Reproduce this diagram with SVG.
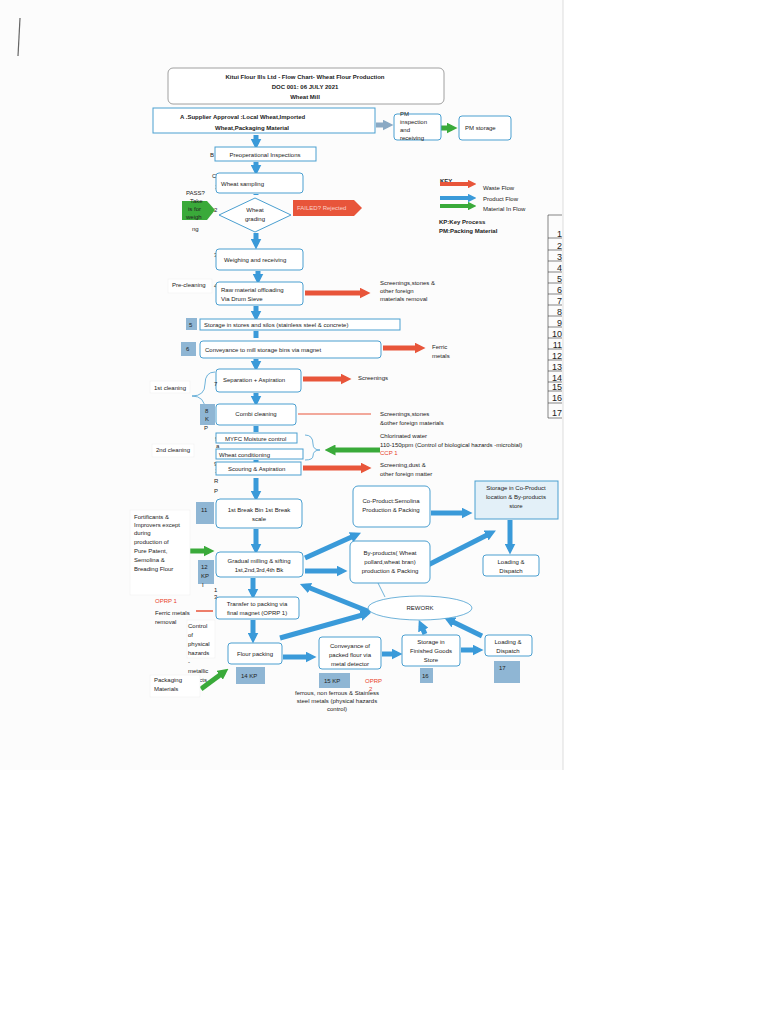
<svg xmlns="http://www.w3.org/2000/svg" width="768" height="1024" viewBox="0 0 768 1024">
<defs>
<style>
text{font-family:"Liberation Sans",Arial,sans-serif;font-size:6px;fill:#222}
.b{fill:#fff;stroke:#4a9fd0;stroke-width:1}
.t{fill:#fff;stroke:#888;stroke-width:0.8}
.lb{fill:#fff;stroke:#f0f0f0;stroke-width:0.6}
.sq{fill:#8fb6d4;stroke:none}
.bl{stroke:#3a9ad9;fill:none}
.rd{stroke:#e8553a;fill:none}
.gr{stroke:#3aaa3a;fill:none}
.m{text-anchor:middle}
.red{fill:#e8402a}
.n{font-size:9px;text-anchor:end}
</style>
<marker id="ab" viewBox="0 0 10 10" refX="5" refY="5" markerWidth="2.2" markerHeight="2.2" orient="auto"><path d="M0,0L10,5L0,10z" fill="#3a9ad9"/></marker>
<marker id="ar" viewBox="0 0 10 10" refX="5" refY="5" markerWidth="2.2" markerHeight="2.2" orient="auto"><path d="M0,0L10,5L0,10z" fill="#e8553a"/></marker>
<marker id="ag" viewBox="0 0 10 10" refX="5" refY="5" markerWidth="2.2" markerHeight="2.2" orient="auto"><path d="M0,0L10,5L0,10z" fill="#3aaa3a"/></marker>
<marker id="ay" viewBox="0 0 10 10" refX="5" refY="5" markerWidth="2.2" markerHeight="2.2" orient="auto"><path d="M0,0L10,5L0,10z" fill="#8aa9c4"/></marker>
</defs>
<rect width="768" height="1024" fill="#fff"/>
<rect x="0" y="0" width="563" height="770" fill="#fcfcfc"/>
<line x1="563" y1="0" x2="563" y2="770" stroke="#ddd"/>
<line x1="20" y1="18" x2="18" y2="56" stroke="#666" stroke-width="1.2"/>

<g id="connectors" stroke-width="5">
<line class="bl" x1="256" y1="135" x2="256" y2="144" marker-end="url(#ab)"/>
<line stroke="#8aa9c4" x1="376" y1="125" x2="388" y2="125" marker-end="url(#ay)"/>
<line class="gr" x1="441" y1="128" x2="452" y2="128" marker-end="url(#ag)"/>
<line class="bl" x1="256" y1="162" x2="256" y2="170" marker-end="url(#ab)"/>
<line class="bl" x1="256" y1="194" x2="256" y2="195"/>
<line class="bl" x1="256" y1="233" x2="256" y2="244" marker-end="url(#ab)"/>
<line class="bl" x1="258" y1="271" x2="258" y2="279" marker-end="url(#ab)"/>
<line class="rd" x1="305" y1="293" x2="365" y2="293" marker-end="url(#ar)"/>
<line class="bl" x1="256" y1="306" x2="256" y2="316" marker-end="url(#ab)"/>
<line class="bl" x1="256" y1="331" x2="256" y2="338"/>
<line class="rd" x1="383" y1="348" x2="420" y2="348" marker-end="url(#ar)"/>
<line class="bl" x1="256" y1="359" x2="256" y2="366" marker-end="url(#ab)"/>
<line class="rd" x1="303" y1="379" x2="346" y2="379" marker-end="url(#ar)"/>
<line class="bl" x1="256" y1="393" x2="256" y2="401" marker-end="url(#ab)"/>
<line class="rd" stroke-width="1" x1="298" y1="414" x2="371" y2="414"/>
<line class="bl" x1="256" y1="426" x2="256" y2="432"/>
<line class="gr" x1="380" y1="450" x2="330" y2="450" marker-end="url(#ag)"/>
<line class="bl" x1="256" y1="460" x2="256" y2="462"/>
<line class="rd" x1="303" y1="468" x2="366" y2="468" marker-end="url(#ar)"/>
<line class="bl" x1="256" y1="478" x2="256" y2="496" marker-end="url(#ab)"/>
<line class="bl" x1="256" y1="529" x2="256" y2="549" marker-end="url(#ab)"/>
<line class="gr" x1="190" y1="551" x2="209" y2="551" marker-end="url(#ag)"/>
<line class="bl" x1="305" y1="558" x2="356" y2="535" marker-end="url(#ab)"/>
<line class="bl" x1="305" y1="571" x2="342" y2="571" marker-end="url(#ab)"/>
<line class="bl" x1="431" y1="513" x2="467" y2="513" marker-end="url(#ab)"/>
<line class="bl" x1="428" y1="565" x2="491" y2="533" marker-end="url(#ab)"/>
<line class="bl" x1="510" y1="520" x2="510" y2="549" marker-end="url(#ab)"/>
<line stroke="#4a9fd0" stroke-width="0.8" x1="378" y1="583" x2="385" y2="597"/>
<line class="bl" x1="370" y1="612" x2="305" y2="586" marker-end="url(#ab)"/>
<line class="bl" x1="253" y1="578" x2="253" y2="594" marker-end="url(#ab)"/>
<line class="rd" stroke-width="1.5" x1="196" y1="611" x2="213" y2="611"/>
<line class="bl" x1="253" y1="620" x2="253" y2="638" marker-end="url(#ab)"/>
<line class="bl" x1="280" y1="638" x2="366" y2="614" marker-end="url(#ab)"/>
<line class="bl" x1="283" y1="657" x2="311" y2="657" marker-end="url(#ab)"/>
<line class="bl" x1="382" y1="654" x2="397" y2="654" marker-end="url(#ab)"/>
<line class="bl" x1="425" y1="634" x2="421" y2="625" marker-end="url(#ab)"/>
<line class="bl" x1="461" y1="650" x2="478" y2="650" marker-end="url(#ab)"/>
<line class="bl" x1="482" y1="636" x2="449" y2="620" marker-end="url(#ab)"/>
<line class="gr" x1="201" y1="689" x2="224" y2="672" marker-end="url(#ag)"/>
</g>

<g id="title"><rect class="t" x="168" y="68" width="276" height="36" rx="5"/>
<text class="m" x="305" y="79" font-weight="bold">Kitui Flour Ills Ltd  - Flow Chart- Wheat Flour Production</text>
<text class="m" x="305" y="89" font-weight="bold">DOC 001: 06 JULY  2021</text>
<text class="m" x="305" y="99" font-weight="bold">Wheat Mill</text></g>

<g id="nA"><rect class="b" x="153" y="108" width="222" height="25"/>
<text x="180" y="119" font-size="8" font-weight="bold">A    .Supplier Approval :Local Wheat,Imported</text>
<text x="215" y="130" font-size="8" font-weight="bold">Wheat,Packaging Material</text></g>
<g id="nPM"><rect class="b" x="394" y="114" width="47" height="26" rx="3"/>
<text x="400" y="116">PM</text><text x="400" y="124">inspection</text><text x="400" y="132">and</text><text x="400" y="140">receiving</text></g>
<g id="nPMs"><rect class="b" x="459" y="116" width="52" height="24" rx="3"/><text x="465" y="130">PM storage</text></g>

<g id="nB"><text x="210" y="157">B</text><rect class="b" x="215" y="147" width="101" height="14"/><text class="m" x="265" y="157">Preoperational Inspections</text></g>
<g id="nC"><text x="212" y="178">C</text><text x="215" y="189">1</text><rect class="b" x="216" y="173" width="87" height="20" rx="3"/><text x="221" y="186">Wheat sampling</text></g>
<g id="nD"><polygon class="b" points="255,198 291,215 255,232 219,215"/><text class="m" x="255" y="212">Wheat</text><text class="m" x="255" y="221">grading</text><text x="214" y="212">2</text></g>
<g id="nPass"><polygon points="182,201 207,201 215,210 207,220 182,220" fill="#3aaa3a"/>
<text x="186" y="195">PASS?</text><text x="190" y="203">Take</text><text x="188" y="211">is for</text><text x="186" y="219">weigh</text><text x="192" y="231">ng</text></g>
<g id="nFail"><polygon points="293,200 354,200 362,208 354,216 293,216" fill="#e8553a"/><text x="297" y="210" style="fill:#fbd2c8">FAILED? Rejected</text></g>

<g id="n3"><text x="214" y="257">3</text><rect class="b" x="216" y="249" width="87" height="21" rx="3"/><text x="224" y="262">Weighing  and receiving</text></g>
<g id="n4"><rect class="lb" x="168" y="279" width="44" height="14"/><text x="172" y="287">Pre-cleaning</text><text x="214" y="288">4</text>
<rect class="b" x="216" y="282" width="87" height="23" rx="3"/><text x="221" y="292">Raw material offloading</text><text x="221" y="301">Via Drum Sieve</text>
<text x="380" y="285">Screenings,stones &amp;</text><text x="380" y="293">other foreign</text><text x="380" y="301">materials removal</text></g>
<g id="n5"><rect class="sq" x="186" y="318" width="11" height="12"/><text x="189" y="327">5</text><rect class="b" x="200" y="319" width="200" height="11"/><text x="204" y="327">Storage in stores and silos (stainless steel &amp; concrete)</text></g>
<g id="n6"><rect class="sq" x="181" y="342" width="15" height="14"/><text x="186" y="351">6</text><rect class="b" x="200" y="341" width="181" height="17" rx="3"/><text x="205" y="352">Conveyance to mill storage bins via magnet</text>
<text x="432" y="349">Ferric</text><text x="432" y="358">metals</text></g>
<g id="n7"><path d="M215,372 Q205,372 205,384 Q205,396 192,396 Q205,396 205,410 Q205,418 215,418" fill="none" stroke="#4a9fd0" stroke-width="0.8"/>
<rect class="lb" x="150" y="381" width="40" height="12"/><text x="154" y="390">1st cleaning</text>
<rect class="b" x="216" y="369" width="85" height="23" rx="3"/><text x="223" y="382">Separation  + Aspiration</text><text x="214" y="386">7</text>
<text x="358" y="380">Screenings</text></g>
<g id="n8"><rect class="sq" x="200" y="404" width="15" height="21"/><text x="205" y="413">8</text><text x="205" y="421">K</text><text x="204" y="430">P</text>
<rect class="b" x="216" y="404" width="80" height="21" rx="3"/><text class="m" x="256" y="416">Combi cleaning</text>
<text x="380" y="416">Screenings,stones</text><text x="380" y="425">&amp;other foreign materials</text></g>
<g id="n9"><text x="215" y="441">9</text><text x="216" y="448">a</text>
<rect class="b" x="216" y="433" width="81" height="10"/><text x="225" y="441">MYFC Moisture control</text>
<rect class="b" x="216" y="449" width="87" height="10"/><text x="219" y="457">Wheat conditioning</text>
<path d="M305,435 Q313,435 313,444 Q313,450 320,450 Q313,450 313,456 Q313,460 305,460" fill="none" stroke="#4a9fd0" stroke-width="0.8"/>
<rect class="lb" x="152" y="444" width="42" height="13"/><text x="156" y="452">2nd cleaning</text>
<text x="380" y="438">Chlorinated water</text><text x="380" y="447">110-150ppm (Control of biological hazards -microbial)</text><text x="380" y="455" class="red">CCP 1</text></g>
<g id="n10"><text x="214" y="466">9</text><text x="215" y="473">1</text><text x="214" y="483">R</text><text x="214" y="493">P</text>
<rect class="b" x="216" y="462" width="85" height="13"/><text x="228" y="471">Scouring &amp; Aspiration</text>
<text x="380" y="467">Screening,dust &amp;</text><text x="380" y="476">other foreign matter</text></g>
<g id="n11"><rect class="sq" x="196" y="502" width="18" height="22"/><text x="201" y="512">11</text>
<rect class="b" x="216" y="499" width="86" height="29" rx="4"/><text class="m" x="259" y="512">1st Break Bin 1st Break</text><text class="m" x="259" y="521">scale</text></g>
<g id="nCo"><rect class="b" x="353" y="486" width="77" height="41" rx="5"/><text class="m" x="391" y="503">Co-Product:Semolina</text><text class="m" x="391" y="512">Production  &amp; Packing</text></g>
<g id="nSt"><rect x="475" y="481" width="83" height="38" fill="#e3f0f8" stroke="#4a9fd0"/><text class="m" x="516" y="490">Storage in Co-Product</text><text class="m" x="516" y="499">location &amp; By-products</text><text class="m" x="516" y="508">store</text></g>
<g id="nLd1"><rect class="b" x="483" y="555" width="56" height="21" rx="3"/><text class="m" x="511" y="564">Loading &amp;</text><text class="m" x="511" y="573">Dispatch</text></g>
<g id="nFort"><rect class="lb" x="130" y="510" width="60" height="85"/>
<text x="134" y="519">Fortificants &amp;</text><text x="134" y="527">Improvers except</text><text x="134" y="535">during</text><text x="134" y="544">production of</text><text x="134" y="553">Pure Patent,</text><text x="134" y="562">Semolina &amp;</text><text x="134" y="571">Breading Flour</text></g>
<g id="n12"><rect class="sq" x="198" y="560" width="16" height="24"/><text x="201" y="569">12</text><text x="201" y="578">KP</text><text x="202" y="587">I</text>
<rect class="b" x="216" y="552" width="87" height="25" rx="4"/><text class="m" x="259" y="563">Gradual milling &amp; sifting</text><text class="m" x="259" y="572">1st,2nd,3rd,4th Bk</text></g>
<g id="nBy"><rect class="b" x="350" y="541" width="80" height="42" rx="5"/><text class="m" x="390" y="555">By-products( Wheat</text><text class="m" x="390" y="564">pollard,wheat bran)</text><text class="m" x="390" y="573">production &amp; Packing</text></g>
<g id="nRw"><ellipse cx="420" cy="608" rx="52" ry="12" fill="#fff" stroke="#4a9fd0" stroke-width="0.8"/><text class="m" x="420" y="610">REWORK</text></g>
<g id="n13"><text x="214" y="592">1</text><text x="214" y="599">3</text><text x="155" y="603" class="red">OPRP 1</text><text x="155" y="615">Ferric metals</text><text x="155" y="624">removal</text>
<rect class="b" x="216" y="597" width="83" height="22" rx="3"/><text class="m" x="257" y="606">Transfer to packing via</text><text class="m" x="257" y="615">final magnet  (OPRP 1)</text></g>
<g id="nCtl"><rect class="lb" x="187" y="620" width="28" height="38"/><text x="188" y="628">Control</text><text x="188" y="637">of</text><text x="188" y="646">physical</text><text x="188" y="655">hazards</text><text x="188" y="664">-</text><text x="188" y="673">metallic</text><text x="188" y="682">objects</text></g>
<g id="n14"><rect class="b" x="228" y="643" width="54" height="21" rx="3"/><text class="m" x="255" y="656">Flour packing</text>
<rect class="sq" x="236" y="667" width="29" height="17"/><text x="241" y="678">14  KP</text></g>
<g id="n15"><rect class="b" x="319" y="637" width="62" height="32" rx="3"/><text class="m" x="350" y="648">Conveyance of</text><text class="m" x="350" y="657">packed flour via</text><text class="m" x="350" y="666">metal detector</text>
<rect class="sq" x="319" y="673" width="31" height="15"/><text x="324" y="683">15  KP</text>
<text x="365" y="683" class="red">OPRP</text><text x="369" y="691" class="red">2</text>
<text class="m" x="337" y="695" font-size="4.5">ferrous, non ferrous &amp; Stainless</text><text class="m" x="337" y="703" font-size="4.5">steel metals (physical hazards</text><text class="m" x="337" y="711" font-size="4.5">control)</text></g>
<g id="n16"><rect class="b" x="402" y="635" width="58" height="31" rx="3"/><text class="m" x="431" y="644">Storage in</text><text class="m" x="431" y="653">Finished Goods</text><text class="m" x="431" y="662">Store</text>
<rect class="sq" x="420" y="668" width="13" height="15"/><text x="422" y="678">16</text></g>
<g id="n17"><rect class="b" x="485" y="635" width="47" height="21" rx="3"/><text class="m" x="508" y="644">Loading &amp;</text><text class="m" x="508" y="653">Dispatch</text>
<rect class="sq" x="494" y="661" width="26" height="22"/><text x="499" y="670">17</text></g>
<g id="nPk"><rect class="lb" x="150" y="675" width="50" height="22"/><text x="154" y="682">Packaging</text><text x="154" y="691">Materials</text></g>

<g id="key"><text x="440" y="183" font-size="8" font-weight="bold">KEY</text>
<line class="rd" stroke-width="4" x1="440" y1="184" x2="472" y2="184" marker-end="url(#ar)"/><text x="483" y="190">Waste Flow</text>
<line class="bl" stroke-width="4" x1="440" y1="198" x2="472" y2="198" marker-end="url(#ab)"/><text x="483" y="201">Product Flow</text>
<line class="gr" stroke-width="4" x1="440" y1="206" x2="472" y2="206" marker-end="url(#ag)"/><text x="483" y="211">Material In Flow</text>
<text x="439" y="224" font-size="5" font-weight="bold">KP:Key Process</text><text x="439" y="233" font-size="5" font-weight="bold">PM:Packing Material</text></g>

<g id="numtable" stroke="#333" stroke-width="0.6">
<line x1="548" y1="215" x2="548" y2="418"/>
<line x1="548" y1="215" x2="562" y2="215"/>
<line x1="548" y1="238" x2="562" y2="238"/><line x1="548" y1="250" x2="562" y2="250"/><line x1="548" y1="261" x2="562" y2="261"/><line x1="548" y1="272" x2="562" y2="272"/><line x1="548" y1="283" x2="562" y2="283"/><line x1="548" y1="294" x2="562" y2="294"/><line x1="548" y1="305" x2="562" y2="305"/><line x1="548" y1="316" x2="562" y2="316"/><line x1="548" y1="327" x2="562" y2="327"/><line x1="548" y1="338" x2="562" y2="338"/><line x1="548" y1="349" x2="562" y2="349"/><line x1="548" y1="360" x2="562" y2="360"/><line x1="548" y1="371" x2="562" y2="371"/><line x1="548" y1="382" x2="562" y2="382"/><line x1="548" y1="391" x2="562" y2="391"/><line x1="548" y1="403" x2="562" y2="403"/><line x1="548" y1="418" x2="562" y2="418"/>
</g>
<g id="numtext">
<text class="n" x="562" y="237">1</text><text class="n" x="562" y="249">2</text><text class="n" x="562" y="260">3</text><text class="n" x="562" y="271">4</text><text class="n" x="562" y="282">5</text><text class="n" x="562" y="293">6</text><text class="n" x="562" y="304">7</text><text class="n" x="562" y="315">8</text><text class="n" x="562" y="326">9</text><text class="n" x="562" y="337">10</text><text class="n" x="562" y="348">11</text><text class="n" x="562" y="359">12</text><text class="n" x="562" y="370">13</text><text class="n" x="562" y="381">14</text><text class="n" x="562" y="390">15</text><text class="n" x="562" y="401">16</text><text class="n" x="562" y="416">17</text>
</g>
</svg>
